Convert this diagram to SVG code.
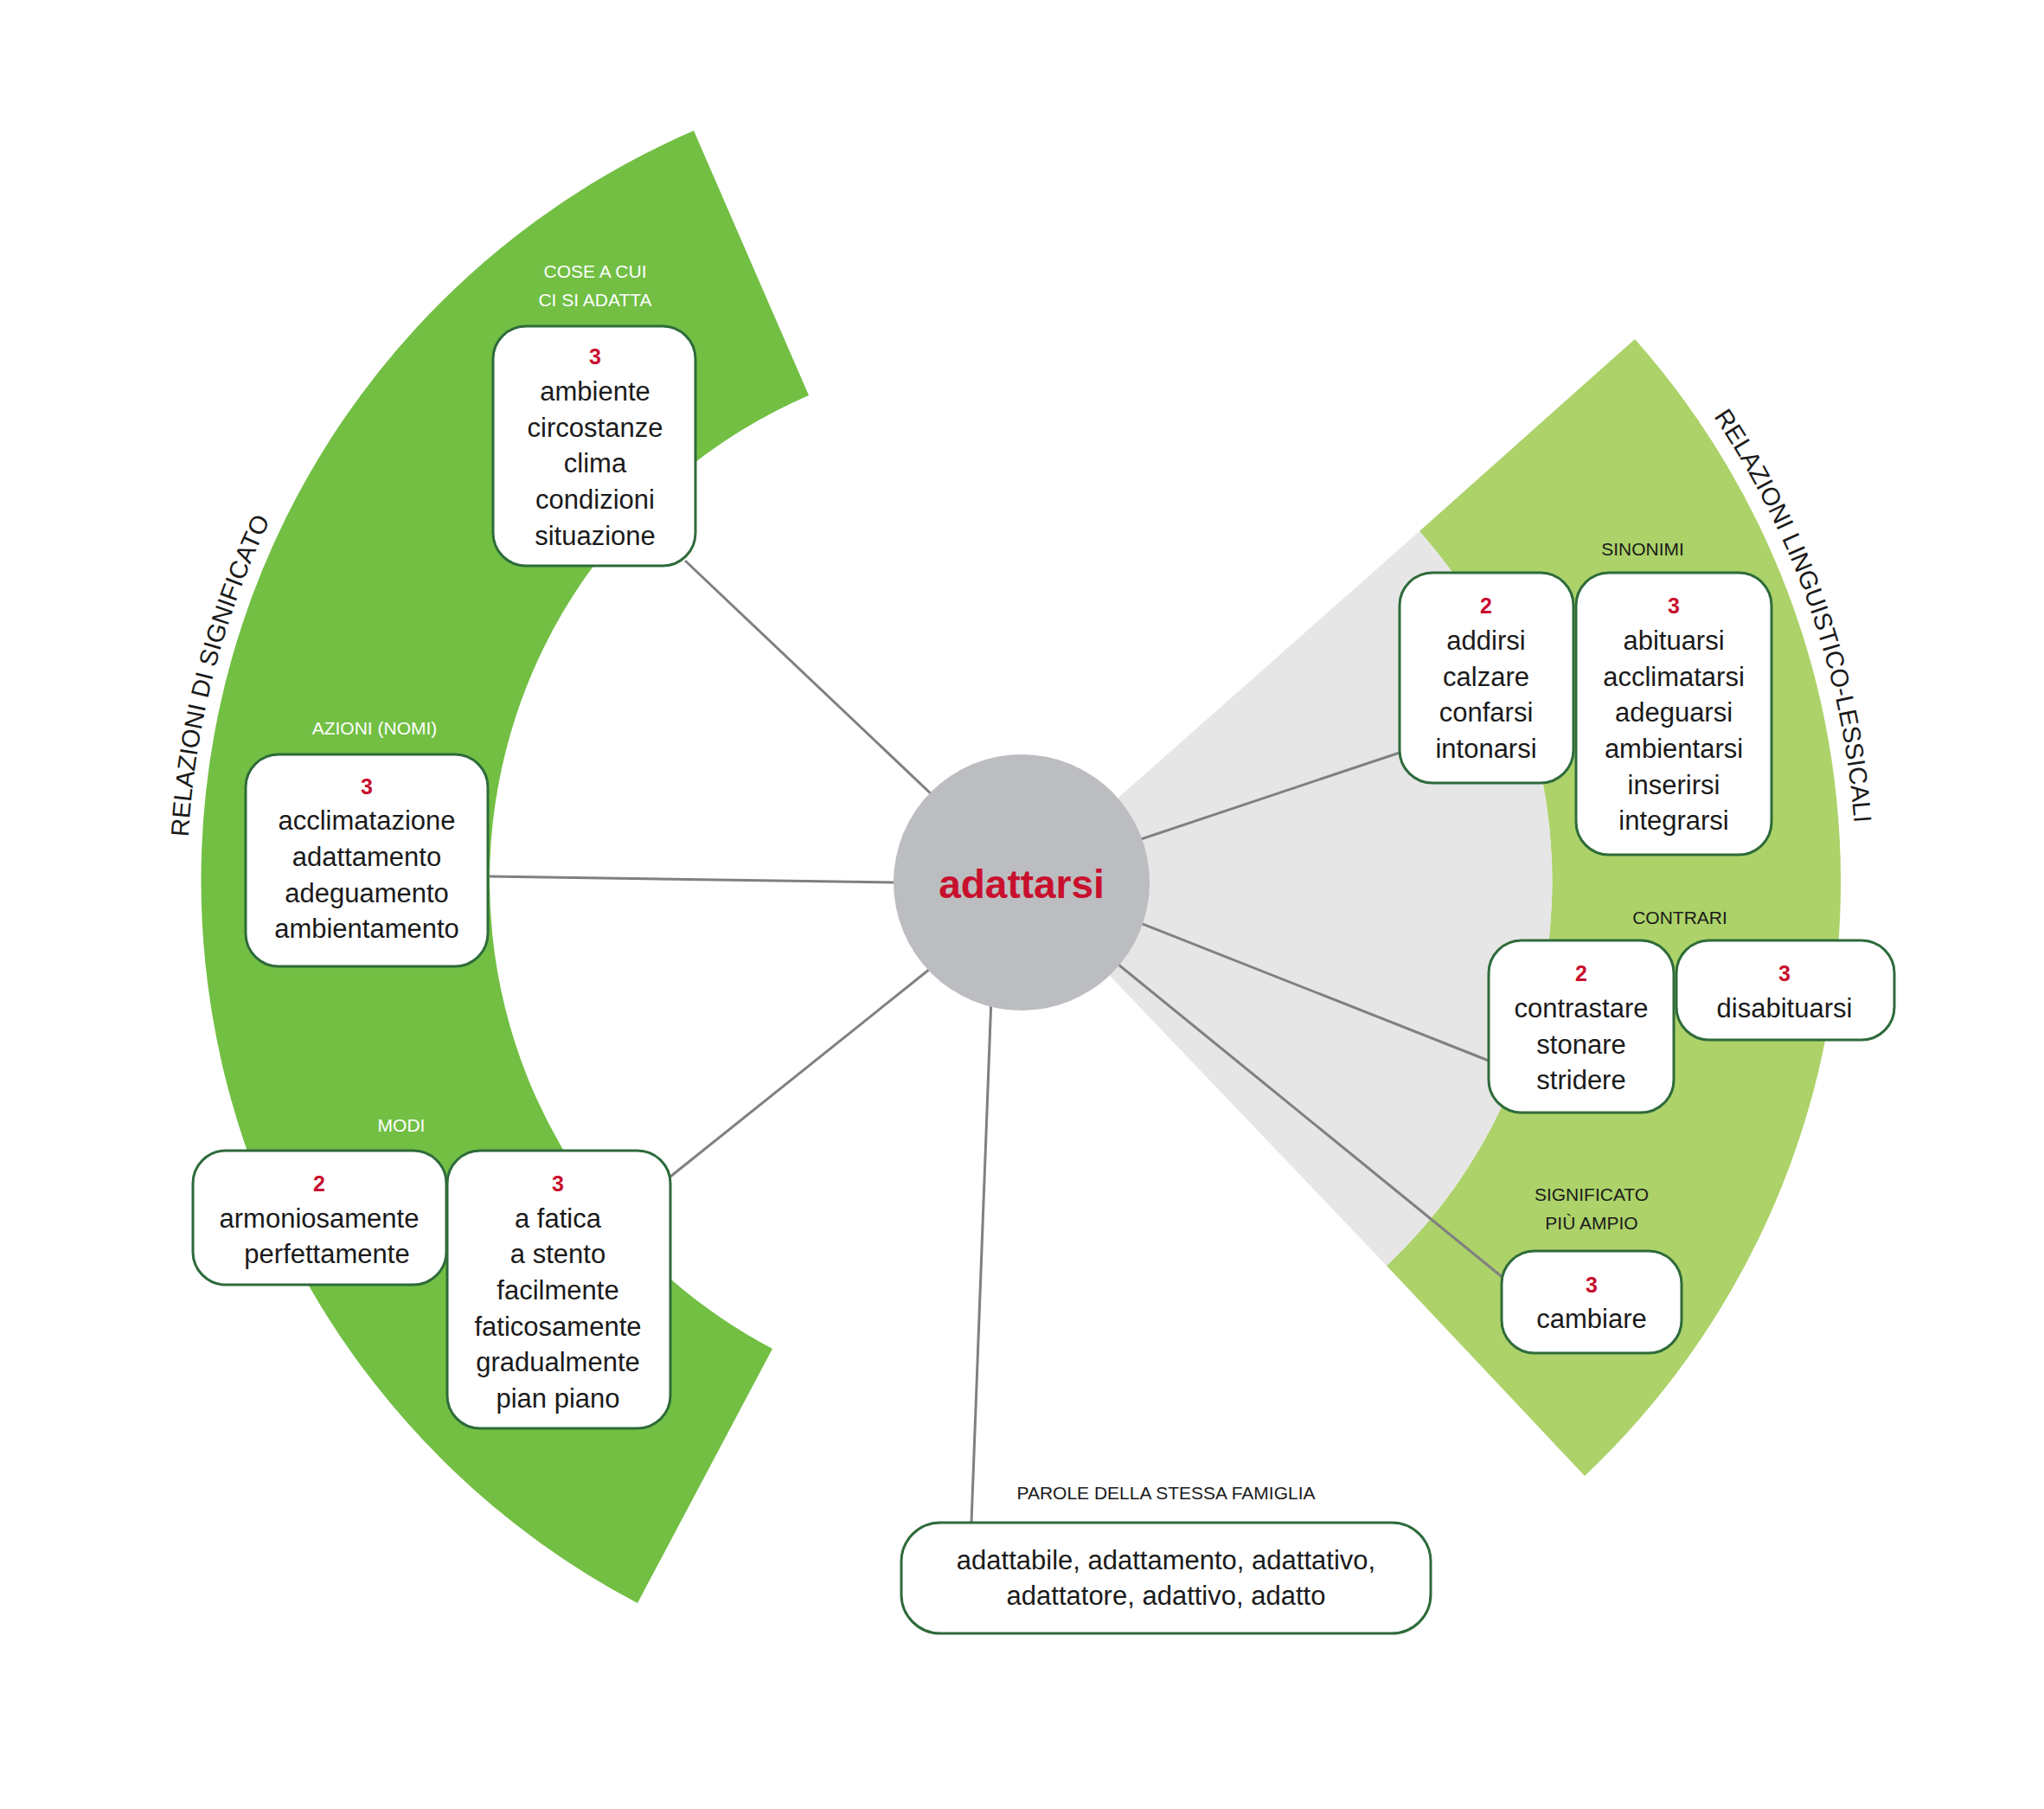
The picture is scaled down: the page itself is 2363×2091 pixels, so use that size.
<svg xmlns="http://www.w3.org/2000/svg" width="2363" height="2091" viewBox="0 0 2363 2091">
<style>
.box{fill:#fff;stroke:#2e6b3a;stroke-width:3}
.t{font-family:"Liberation Sans",Arial,sans-serif;font-size:31px;fill:#1a1a1a;text-anchor:middle}
.n{font-family:"Liberation Sans",Arial,sans-serif;font-size:25px;font-weight:bold;fill:#c8102e;text-anchor:middle}
.l{font-family:"Liberation Sans",Arial,sans-serif;font-size:21px;fill:#fff;text-anchor:middle}
.lk{font-family:"Liberation Sans",Arial,sans-serif;font-size:21px;fill:#1a1a1a;text-anchor:middle}
.h{font-family:"Liberation Sans",Arial,sans-serif;font-size:29px;fill:#1a1a1a;text-anchor:middle}
.c{stroke:#808080;stroke-width:3;fill:none}
</style>
<defs>
<path id="pl" d="M 231 1189 A 965 965 0 0 1 699 185"/>
<path id="pr" d="M 1663 185 A 965 965 0 0 1 2017 1503"/>
</defs>
<rect width="2363" height="2091" fill="#fff"/>
<g id="bands">
<path d="M 802 151 A 944 944 0 0 0 737 1853 L 893 1559 A 611 611 0 0 1 935 457 Z" fill="#72bf44"/>
<path d="M 1890 392 A 945 945 0 0 1 1832 1706 L 1603 1463 A 611 611 0 0 0 1641 614 Z" fill="#acd269"/>
<path d="M 1181 1021 L 1641 614 A 611 611 0 0 1 1603 1463 Z" fill="#e6e6e6"/>
<text class="h"><textPath href="#pl" startOffset="413">RELAZIONI DI SIGNIFICATO</textPath></text>
<text class="h"><textPath href="#pr" startOffset="690">RELAZIONI LINGUISTICO-LESSICALI</textPath></text>
</g>
<g id="connectors">
<line class="c" x1="792" y1="648" x2="1100" y2="940"/>
<line class="c" x1="566" y1="1013" x2="1100" y2="1021"/>
<line class="c" x1="775" y1="1360" x2="1100" y2="1100"/>
<line class="c" x1="1148" y1="1100" x2="1123" y2="1760"/>
<line class="c" x1="1250" y1="993" x2="1618" y2="870"/>
<line class="c" x1="1250" y1="1040" x2="1721" y2="1226"/>
<line class="c" x1="1250" y1="1080" x2="1739" y2="1478"/>
</g>
<g id="center">
<circle cx="1181" cy="1020" r="148" fill="#bcbdc0"/>
<text x="1181" y="1038" font-family="'Liberation Sans',Arial,sans-serif" font-size="46" font-weight="bold" fill="#c8102e" text-anchor="middle">adattarsi</text>
</g>
<g id="cose">
<text class="l" x="688" y="321">COSE A CUI</text>
<text class="l" x="688" y="354">CI SI ADATTA</text>
<rect class="box" x="570" y="377" width="234" height="277" rx="38"/>
<text class="n" x="688" y="421">3</text>
<text class="t" x="688" y="463">ambiente</text>
<text class="t" x="688" y="505">circostanze</text>
<text class="t" x="688" y="546">clima</text>
<text class="t" x="688" y="588">condizioni</text>
<text class="t" x="688" y="630">situazione</text>
</g>
<g id="azioni">
<text class="l" x="433" y="849">AZIONI (NOMI)</text>
<rect class="box" x="284" y="872" width="280" height="245" rx="38"/>
<text class="n" x="424" y="918">3</text>
<text class="t" x="424" y="959">acclimatazione</text>
<text class="t" x="424" y="1001">adattamento</text>
<text class="t" x="424" y="1043">adeguamento</text>
<text class="t" x="424" y="1084">ambientamento</text>
</g>
<g id="modi2">
<text class="l" x="464" y="1308">MODI</text>
<rect class="box" x="223" y="1330" width="293" height="155" rx="38"/>
<text class="n" x="369" y="1377">2</text>
<text class="t" x="369" y="1419">armoniosamente</text>
<text class="t" x="378" y="1460">perfettamente</text>
</g>
<g id="modi3">
<rect class="box" x="517" y="1330" width="258" height="321" rx="38"/>
<text class="n" x="645" y="1377">3</text>
<text class="t" x="645" y="1419">a fatica</text>
<text class="t" x="645" y="1460">a stento</text>
<text class="t" x="645" y="1502">facilmente</text>
<text class="t" x="645" y="1544">faticosamente</text>
<text class="t" x="645" y="1585">gradualmente</text>
<text class="t" x="645" y="1627">pian piano</text>
</g>
<g id="sinonimi2">
<text class="lk" x="1899" y="642">SINONIMI</text>
<rect class="box" x="1618" y="662" width="201" height="243" rx="38"/>
<text class="n" x="1718" y="709">2</text>
<text class="t" x="1718" y="751">addirsi</text>
<text class="t" x="1718" y="793">calzare</text>
<text class="t" x="1718" y="834">confarsi</text>
<text class="t" x="1718" y="876">intonarsi</text>
</g>
<g id="sinonimi3">
<rect class="box" x="1822" y="662" width="226" height="326" rx="38"/>
<text class="n" x="1935" y="709">3</text>
<text class="t" x="1935" y="751">abituarsi</text>
<text class="t" x="1935" y="793">acclimatarsi</text>
<text class="t" x="1935" y="834">adeguarsi</text>
<text class="t" x="1935" y="876">ambientarsi</text>
<text class="t" x="1935" y="918">inserirsi</text>
<text class="t" x="1935" y="959">integrarsi</text>
</g>
<g id="contrari2">
<text class="lk" x="1942" y="1068">CONTRARI</text>
<rect class="box" x="1721" y="1087" width="214" height="199" rx="38"/>
<text class="n" x="1828" y="1134">2</text>
<text class="t" x="1828" y="1176">contrastare</text>
<text class="t" x="1828" y="1218">stonare</text>
<text class="t" x="1828" y="1259">stridere</text>
</g>
<g id="contrari3">
<rect class="box" x="1938" y="1087" width="252" height="115" rx="38"/>
<text class="n" x="2063" y="1134">3</text>
<text class="t" x="2063" y="1176">disabituarsi</text>
</g>
<g id="ampio">
<text class="lk" x="1840" y="1388">SIGNIFICATO</text>
<text class="lk" x="1840" y="1421">PIÙ AMPIO</text>
<rect class="box" x="1736" y="1446" width="208" height="118" rx="38"/>
<text class="n" x="1840" y="1494">3</text>
<text class="t" x="1840" y="1535">cambiare</text>
</g>
<g id="famiglia">
<text class="lk" x="1348" y="1733">PAROLE DELLA STESSA FAMIGLIA</text>
<rect class="box" x="1042" y="1760" width="612" height="128" rx="45"/>
<text class="t" x="1348" y="1814">adattabile, adattamento, adattativo,</text>
<text class="t" x="1348" y="1855">adattatore, adattivo, adatto</text>
</g>
</svg>
